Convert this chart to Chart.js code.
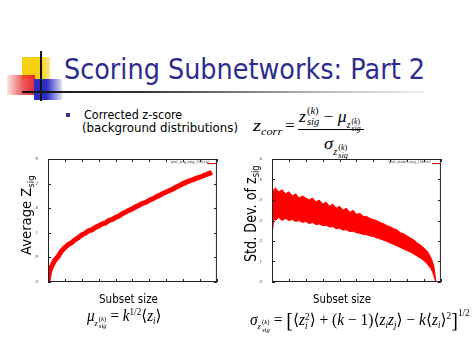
<!DOCTYPE html>
<html><head><meta charset="utf-8">
<script src="https://cdn.jsdelivr.net/npm/chart.js@4.4.1/dist/chart.umd.min.js"></script>
<style>
html,body{margin:0;padding:0;background:#fff}
body{width:474px;height:355px;overflow:hidden;position:relative}
.a{position:absolute;white-space:nowrap;line-height:1;transform-origin:0 0}
.sans{font-family:"DejaVu Sans","Liberation Sans",sans-serif;color:#000}
.ser{font-family:"Liberation Serif","Times New Roman","DejaVu Serif",serif;color:#000}
.ser i{font-style:italic;font-family:"Liberation Serif","Times New Roman","DejaVu Serif",serif}
.sb{font-size:0.6em;vertical-align:-0.35em}
.sp{font-size:0.6em;vertical-align:0.6em}
.zs{font-size:0.55em;vertical-align:-0.6em;display:inline-flex;align-items:center}
.stk{display:inline-flex;flex-direction:column;font-size:0.8em;line-height:1.05;margin-left:1px}
.ss{display:inline-flex;flex-direction:column;font-size:0.6em;line-height:0.95;vertical-align:0.45em}
.ang{font-family:"DejaVu Serif","Liberation Serif",serif;font-style:normal}
canvas{position:absolute}
.deco{position:absolute}
</style></head><body>

<div class="deco" style="left:22px;top:57px;width:28px;height:22px;background:linear-gradient(to right,#f6cf10 0%,#f6cf10 65%,#fbe88a 100%)"></div>
<div class="deco" style="left:7px;top:75px;width:28px;height:20px;background:linear-gradient(to right,rgba(232,40,40,0.12) 0%,rgba(232,40,40,0.75) 55%,#e42a2a 100%)"></div>
<div class="deco" style="left:34px;top:79px;width:28px;height:21px;background:linear-gradient(to right,#2d2dc4 0%,#2d2dc4 45%,rgba(45,45,196,0.15) 100%)"></div>
<div class="deco" style="left:40px;top:51px;width:1.5px;height:50px;background:#111"></div>
<div class="deco" style="left:22px;top:91px;width:402px;height:1.5px;background:linear-gradient(to right,#111 0%,#333 30%,#bbb 75%,#eee 100%)"></div>

<div class="a sans fit" data-w="361" style="left:64px;top:54.5px;font-size:29px;color:#2d2d8f">Scoring Subnetworks: Part 2</div>

<div class="deco" style="left:66px;top:113px;width:4px;height:4px;background:#333399"></div>
<div class="a sans fit" data-w="98" style="left:84px;top:108px;font-size:13px">Corrected z-score</div>
<div class="a sans fit" data-w="156" style="left:82px;top:121px;font-size:13px">(background distributions)</div>

<!-- top formula -->
<div class="a ser fit" data-w="29" style="left:253px;top:117px;font-size:17px"><i>z</i><span class="sb"><i>corr</i></span></div>
<div class="a ser" style="left:285px;top:117px;font-size:17px">=</div>
<div class="a ser fit" data-w="62" style="left:299px;top:106px;font-size:17px"><span class="zs" style="font-size:1em;vertical-align:0"><i>z</i><span class="stk" style="font-size:0.6em"><span>(<i>k</i>)</span><span><i>sig</i></span></span></span> &minus; <i>μ</i><span class="zs"><i>z</i><span class="stk"><span>(<i>k</i>)</span><span><i>sig</i></span></span></span></div>
<div class="deco" style="left:298px;top:129px;width:66px;height:1px;background:#000"></div>
<div class="a ser fit" data-w="24" style="left:324px;top:135px;font-size:17px"><i>σ</i><span class="zs"><i>z</i><span class="stk"><span>(<i>k</i>)</span><span><i>sig</i></span></span></span></div>

<canvas id="c1" width="190" height="140" style="left:34px;top:154px"></canvas>
<canvas id="c2" width="190" height="140" style="left:258px;top:154px"></canvas>

<!-- legends -->
<div class="a sans" style="left:170px;top:161px;font-size:3.5px;color:#444">'plot_avg_zsig_100.txt'</div>
<div class="deco" style="left:207px;top:163px;width:9px;height:1px;background:#f00"></div>
<div class="a sans" style="left:388px;top:161px;font-size:3.5px;color:#444">'plot_stdev_zsig_100.txt'</div>
<div class="deco" style="left:432px;top:163px;width:9px;height:1px;background:#f00"></div>

<!-- axis titles -->
<div class="a sans fit rot" data-w="80" style="left:19px;top:255px;font-size:14px">Average Z<span class="sb" style="font-size:0.65em;vertical-align:-0.3em">sig</span></div>
<div class="a sans fit rot" data-w="97" style="left:244px;top:262px;font-size:15px">Std. Dev. of z<span class="sb" style="font-size:0.65em;vertical-align:-0.3em">sig</span></div>
<div class="a sans fit" data-w="59" style="left:99px;top:292px;font-size:13px">Subset size</div>
<div class="a sans fit" data-w="58" style="left:313px;top:292px;font-size:13px">Subset size</div>

<!-- bottom formulas -->
<div class="a ser fit" data-w="75" style="left:87px;top:306.5px;font-size:16px"><i>μ</i><span class="zs"><i>z</i><span class="stk"><span>(<i>k</i>)</span><span><i>sig</i></span></span></span> = <i>k</i><span class="sp">1/2</span><span class="ang">⟨</span><i>z</i><span class="sb"><i>i</i></span><span class="ang">⟩</span></div>
<div class="a ser fit" data-w="220" style="left:250px;top:307.5px;font-size:16px"><i>σ</i><span class="zs"><i>z</i><span class="stk"><span>(<i>k</i>)</span><span><i>sig</i></span></span></span> = <span style="font-size:1.3em;vertical-align:-0.12em">[</span><span class="ang">⟨</span><i>z</i><span class="ss"><span>2</span><i>i</i></span><span class="ang">⟩</span> + (<i>k</i> &minus; 1)<span class="ang">⟨</span><i>z</i><span class="sb"><i>i</i></span><i>z</i><span class="sb"><i>j</i></span><span class="ang">⟩</span> &minus; <i>k</i><span class="ang">⟨</span><i>z</i><span class="sb"><i>i</i></span><span class="ang">⟩</span><span class="sp">2</span><span style="font-size:1.3em;vertical-align:-0.12em">]</span><span class="sp" style="vertical-align:0.9em">1/2</span></div>

<script>
// ---- data ----
const subsetSizes = [0,50,100,200,300,400,500,600,700,800,900,1000,1100,1200,1300,1400,1500,1600,1700,1800,1900,2000,2100,2200,2300,2400,2500,2600,2700,2800,2900,3000,3100,3200,3300,3400,3500,3600,3700,3800,3900,4000,4100,4200,4300,4400,4500,4600,4700,4750,4800,4850];
const avgZsig = [0.02,0.22,0.31,0.44,0.52,0.63,0.70,0.76,0.80,0.86,0.90,0.96,0.99,1.04,1.06,1.11,1.14,1.18,1.20,1.25,1.27,1.31,1.34,1.39,1.42,1.46,1.49,1.53,1.56,1.60,1.62,1.66,1.69,1.73,1.76,1.80,1.83,1.86,1.89,1.93,1.96,2.00,2.03,2.06,2.08,2.11,2.13,2.16,2.19,2.20,2.21,2.23];
const stdZsigUpper = [0.47,0.44,0.46,0.44,0.45,0.43,0.44,0.42,0.43,0.41,0.42,0.41,0.40,0.41,0.39,0.40,0.38,0.39,0.37,0.38,0.36,0.37,0.35,0.36,0.34,0.35,0.33,0.335,0.32,0.32,0.31,0.305,0.30,0.29,0.285,0.275,0.27,0.26,0.255,0.24,0.235,0.225,0.215,0.205,0.19,0.18,0.165,0.15,0.12,0.10,0.07,0.005];
const stdZsigLower = [0.22,0.31,0.30,0.315,0.30,0.31,0.30,0.305,0.295,0.30,0.29,0.295,0.285,0.29,0.28,0.283,0.275,0.277,0.268,0.27,0.26,0.262,0.253,0.255,0.246,0.248,0.24,0.238,0.232,0.23,0.225,0.222,0.215,0.21,0.204,0.198,0.19,0.183,0.176,0.168,0.16,0.153,0.145,0.136,0.126,0.116,0.104,0.088,0.066,0.05,0.025,0];
const xTickValues = [0,500,1000,1500,2000,2500,3000,3500,4000,4500,5000];
const avgYTicks = [0,0.5,1,1.5,2,2.5];
const stdYTicks = [0,0.1,0.2,0.3,0.4,0.5,0.6];

// ---- fit text widths ----
document.querySelectorAll('.fit').forEach(el => {
  const w = el.offsetWidth, t = +el.dataset.w;
  const s = t / w;
  el.style.transform = el.classList.contains('rot') ? `rotate(-90deg) scaleX(${s})` : `scaleX(${s})`;
});

const framePlugin = {
  id: 'frame',
  afterDatasetsDraw(chart) {
    const {ctx, chartArea: a, scales: {x, y}} = chart;
    ctx.save();
    ctx.strokeStyle = '#222'; ctx.lineWidth = 1;
    ctx.strokeRect(a.left + 0.5, a.top + 0.5, a.right - a.left - 1, a.bottom - a.top - 1);
    ctx.beginPath();
    x.ticks.forEach(t => {
      const p = Math.round(x.getPixelForValue(t.value)) + 0.5;
      ctx.moveTo(p, a.bottom); ctx.lineTo(p, a.bottom - 3);
      ctx.moveTo(p, a.top); ctx.lineTo(p, a.top + 3);
    });
    y.ticks.forEach(t => {
      const p = Math.round(y.getPixelForValue(t.value)) + 0.5;
      ctx.moveTo(a.left, p); ctx.lineTo(a.left + 3, p);
      ctx.moveTo(a.right, p); ctx.lineTo(a.right - 3, p);
    });
    ctx.stroke();
    ctx.restore();
  }
};

function makeChart(id, datasets, yMax, yTicks) {
  const tickFont = {family: 'DejaVu Sans', size: 4};
  return new Chart(document.getElementById(id), {
    type: 'line',
    data: {datasets},
    plugins: [framePlugin],
    options: {
      responsive: false, animation: false, devicePixelRatio: 1,
      layout: {padding: {top: 5, right: 6, bottom: 2, left: 0}},
      plugins: {legend: {display: false}, tooltip: {enabled: false}},
      elements: {line: {tension: 0}, point: {radius: 0}},
      scales: {
        x: {
          type: 'linear', min: 0, max: 5000,
          grid: {display: false}, border: {display: false},
          afterBuildTicks: s => { s.ticks = xTickValues.map(v => ({value: v})); },
          afterFit: s => { s.height = 10; },
          ticks: {font: tickFont, color: '#555', padding: 2, maxRotation: 0, autoSkip: false,
                  callback: v => String(v)}
        },
        y: {
          type: 'linear', min: 0, max: yMax,
          grid: {display: false}, border: {display: false},
          afterBuildTicks: s => { s.ticks = yTicks.map(v => ({value: v})); },
          afterFit: s => { s.width = 14; },
          ticks: {font: tickFont, color: '#555', padding: 2, autoSkip: false,
                  callback: v => String(v).replace('.', ',')}
        }
      }
    }
  });
}

const pts = arr => subsetSizes.map((x, i) => ({x, y: arr[i]}));

makeChart('c1', [
  {data: pts(avgZsig), borderColor: '#ff0000', borderWidth: 5, fill: false, pointRadius: 0}
], 2.5, avgYTicks);

makeChart('c2', [
  {data: pts(stdZsigLower), borderColor: '#ff0000', borderWidth: 1, fill: false, pointRadius: 0},
  {data: pts(stdZsigUpper), borderColor: '#ff0000', borderWidth: 1, backgroundColor: '#ff0000', fill: '-1', pointRadius: 0}
], 0.6, stdYTicks);
</script>
</body></html>
